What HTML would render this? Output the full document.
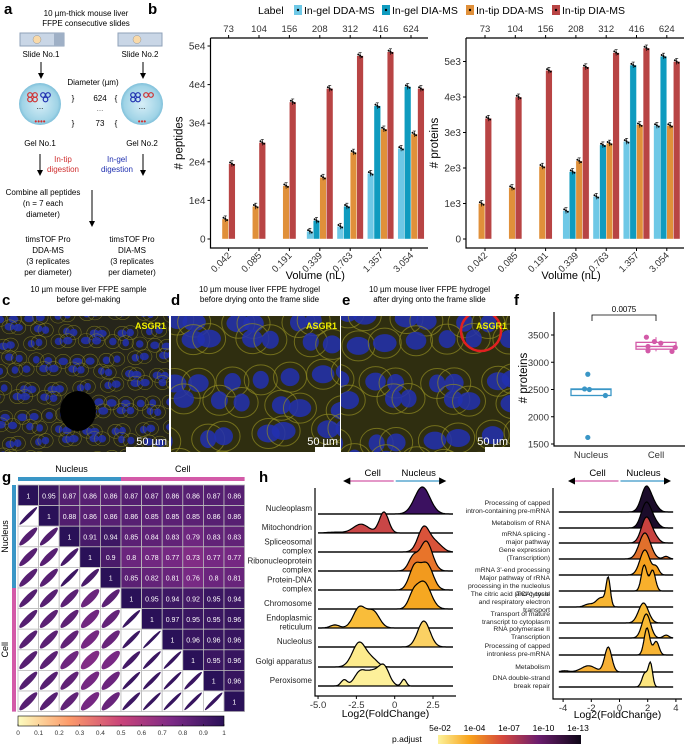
<!DOCTYPE html>
<html><head><meta charset="utf-8">
<style>
html,body{margin:0;padding:0;background:#fff;}
svg{display:block;font-family:"Liberation Sans",Arial,sans-serif;}
</style></head>
<body>
<svg id="fig" width="685" height="744" viewBox="0 0 685 744" xmlns="http://www.w3.org/2000/svg">
<defs>
<linearGradient id="gCorr" x1="0" x2="1" y1="0" y2="0">
<stop offset="0" stop-color="#fcfdbf"/><stop offset="0.25" stop-color="#fc9a6a"/><stop offset="0.5" stop-color="#c9447a"/><stop offset="0.75" stop-color="#7b2a86"/><stop offset="1" stop-color="#2a1158"/>
</linearGradient>
<linearGradient id="gP" x1="0" x2="1" y1="0" y2="0">
<stop offset="0" stop-color="#fcf29a"/><stop offset="0.22" stop-color="#f8a31c"/><stop offset="0.45" stop-color="#d5483d"/><stop offset="0.7" stop-color="#6c1d6e"/><stop offset="1" stop-color="#0d0616"/>
</linearGradient>
<radialGradient id="gelG"><stop offset="0" stop-color="#d7eef7"/><stop offset="0.85" stop-color="#9fd3e6"/><stop offset="1" stop-color="#7fc0da"/></radialGradient>
<marker id="arr" markerWidth="6" markerHeight="6" refX="3" refY="3" orient="auto"><path d="M0,0 L6,3 L0,6 z" fill="#000"/></marker>
</defs>

<g font-weight="bold" font-size="15">
<text x="4" y="14">a</text><text x="148" y="14">b</text><text x="2" y="305">c</text><text x="171" y="305">d</text><text x="342" y="305">e</text><text x="514" y="305">f</text><text x="2" y="482">g</text><text x="259" y="482">h</text>
</g>

<g id="panelA" font-size="8" text-anchor="middle">
<text x="86" y="16">10 µm-thick mouse liver</text>
<text x="86" y="26">FFPE consecutive slides</text>
<rect x="20" y="33" width="44" height="13" fill="#c9d6e6" stroke="#8fa1b8"/>
<rect x="54" y="33" width="10" height="13" fill="#9fb0c6"/>
<circle cx="37" cy="39.5" r="4" fill="#f9d9a8" stroke="#999" stroke-width="0.5"/>
<rect x="118" y="33" width="44" height="13" fill="#c9d6e6" stroke="#8fa1b8"/>
<circle cx="137" cy="39.5" r="4" fill="#f9d9a8" stroke="#999" stroke-width="0.5"/>
<text x="41" y="57">Slide No.1</text><text x="140" y="57">Slide No.2</text>
<line x1="41" y1="62" x2="41" y2="76" stroke="#000" marker-end="url(#arr)"/>
<line x1="143" y1="62" x2="143" y2="76" stroke="#000" marker-end="url(#arr)"/>
<circle cx="40" cy="104" r="21" fill="url(#gelG)"/>
<circle cx="142" cy="104" r="21" fill="url(#gelG)"/>
<g fill="none" stroke-width="1.2">
<circle cx="30" cy="95" r="2.3" stroke="#d03030"/><circle cx="35" cy="95" r="2.3" stroke="#d03030"/><circle cx="30" cy="99.5" r="2.3" stroke="#d03030"/><circle cx="35" cy="99.5" r="2.3" stroke="#d03030"/>
<circle cx="43" cy="95" r="2.3" stroke="#2030b0"/><circle cx="48" cy="95" r="2.3" stroke="#2030b0"/><circle cx="45.5" cy="99.5" r="2.3" stroke="#2030b0"/>
<circle cx="133" cy="95" r="2.3" stroke="#2030b0"/><circle cx="138" cy="95" r="2.3" stroke="#2030b0"/><circle cx="133" cy="99.5" r="2.3" stroke="#2030b0"/><circle cx="138" cy="99.5" r="2.3" stroke="#2030b0"/>
<circle cx="146" cy="95" r="2.3" stroke="#d03030"/><circle cx="151" cy="95" r="2.3" stroke="#d03030"/>
</g>
<text x="40" y="109">...</text><text x="142" y="109">...</text>
<text x="40" y="124" fill="#d03030">••••</text><text x="142" y="124" fill="#d03030">•••</text>
<text x="93" y="85">Diameter (µm)</text>
<text x="73" y="101">}</text><text x="100" y="101">624</text><text x="116" y="101">{</text>
<text x="100" y="111" fill="#666">...</text>
<text x="73" y="126">}</text><text x="100" y="126">73</text><text x="116" y="126">{</text>
<text x="40" y="146">Gel No.1</text><text x="142" y="146">Gel No.2</text>
<line x1="40" y1="154" x2="40" y2="173" stroke="#000" marker-end="url(#arr)"/>
<line x1="143" y1="154" x2="143" y2="173" stroke="#000" marker-end="url(#arr)"/>
<text x="63" y="162" fill="#d03030">In-tip</text><text x="63" y="172" fill="#d03030">digestion</text>
<text x="117" y="162" fill="#2030b0">In-gel</text><text x="117" y="172" fill="#2030b0">digestion</text>
<text x="43" y="195">Combine all peptides</text>
<text x="43" y="206">(n = 7 each</text><text x="43" y="217">diameter)</text>
<line x1="92" y1="190" x2="92" y2="224" stroke="#000" marker-end="url(#arr)"/>
<text x="48" y="242">timsTOF Pro</text><text x="48" y="253">DDA-MS</text><text x="48" y="264">(3 replicates</text><text x="48" y="275">per diameter)</text>
<text x="132" y="242">timsTOF Pro</text><text x="132" y="253">DIA-MS</text><text x="132" y="264">(3 replicates</text><text x="132" y="275">per diameter)</text>
</g>

<g id="panelB"></g>
<g id="panelCDE"></g>
<g id="panelF"></g>
<g id="panelG"></g>
<g id="panelH"></g>
</svg>

<script>
// ---------- data: panel b ----------
const volumes = ["0.042","0.085","0.191","0.339","0.763","1.357","3.054"];
const diameters = ["73","104","156","208","312","416","624"];
const seriesNames = ["In-gel DDA-MS","In-gel DIA-MS","In-tip DDA-MS","In-tip DIA-MS"];
const peptGelDDA = [0,0,0,2000,3300,17000,23500];
const peptGelDIA = [0,0,0,4800,8500,34500,39500];
const peptTipDDA = [5200,8500,13800,16000,22500,28500,27200];
const peptTipDIA = [19500,25000,35500,39000,47500,48500,39000];
const protGelDDA = [0,0,0,800,1200,2750,3200];
const protGelDIA = [0,0,0,1900,2650,4900,5150];
const protTipDDA = [1000,1450,2050,2200,2700,3220,3200];
const protTipDIA = [3400,4000,4750,4850,5250,5380,5000];
const peptTicks = [0,10000,20000,30000,40000,50000];
const peptTickLabels = ["0","1e4","2e4","3e4","4e4","5e4"];
const protTicks = [0,1000,2000,3000,4000,5000];
const protTickLabels = ["0","1e3","2e3","3e3","4e3","5e3"];
// ---------- data: panel f ----------
const fCategories = ["Nucleus","Cell"];
const fNucleus = [2780,2510,2500,2390,1620];
const fCell = [3460,3380,3350,3290,3210,3270,3200];
const fTicks = [1500,2000,2500,3000,3500];
const fPValue = "0.0075";
// ---------- data: panel g ----------
const corrLabels = ["N1","N2","N3","N4","N5","C1","C2","C3","C4","C5","C6"];
const corrUpper = [
 [1,0.95,0.87,0.86,0.86,0.87,0.87,0.86,0.86,0.87,0.86],
 [1,0.88,0.86,0.86,0.86,0.85,0.85,0.85,0.86,0.86],
 [1,0.91,0.94,0.85,0.84,0.83,0.79,0.83,0.83],
 [1,0.9,0.8,0.78,0.77,0.73,0.77,0.77],
 [1,0.85,0.82,0.81,0.76,0.8,0.81],
 [1,0.95,0.94,0.92,0.95,0.94],
 [1,0.97,0.95,0.95,0.96],
 [1,0.96,0.96,0.96],
 [1,0.95,0.96],
 [1,0.96],
 [1]
];
const corrTicks = [0,0.1,0.2,0.3,0.4,0.5,0.6,0.7,0.8,0.9,1];
// ---------- data: panel h ----------
const hLeftTerms = [["Nucleoplasm"],["Mitochondrion"],["Spliceosomal","complex"],["Ribonucleoprotein","complex"],["Protein-DNA","complex"],["Chromosome"],["Endoplasmic","reticulum"],["Nucleolus"],["Golgi apparatus"],["Peroxisome"]];
const hLeftPeaks = [
 [[1.8,0.5,1]],
 [[-0.7,0.3,1],[-2.2,0.5,0.42],[-3.9,0.5,0.04]],
 [[1.9,0.38,1],[2.7,0.4,0.35]],
 [[2.05,0.4,1],[1.2,0.3,0.45]],
 [[1.3,0.35,0.85],[2.1,0.4,0.95]],
 [[1.9,0.45,1],[1.2,0.3,0.45]],
 [[-2.3,0.4,1],[-1.4,0.4,0.8],[-3.9,0.3,0.15]],
 [[1.9,0.4,1]],
 [[-2.3,0.45,1],[-1.4,0.35,0.25]],
 [[-0.7,0.35,0.6],[-1.5,0.45,0.45],[-2.3,0.35,0.4],[-3.3,0.2,0.2],[0.6,0.15,0.22]]
];
const hLeftHeights = [27,21,26,30,28,28,22,26,25,22];
const hLeftColors = ["#3b1160","#c94646","#d9533a","#e8742a","#f29a1e","#f6a821","#f9bd3a","#fbd163","#fdeb8c","#fdf09a"];
const hRightTerms = [["Processing of capped","intron-containing pre-mRNA"],["Metabolism of RNA"],["mRNA splicing -","major pathway"],["Gene expression","(Transcription)"],["mRNA 3'-end processing"],["Major pathway of rRNA","processing in the nucleolus","and cytosol"],["The citric acid (TCA) cycle","and respiratory electron","transport"],["Transport of mature","transcript to cytoplasm"],["RNA polymerase II","Transcription"],["Processing of capped","intronless pre-mRNA"],["Metabolism"],["DNA double-strand","break repair"]];
const hRightPeaks = [
 [[1.9,0.35,1],[2.5,0.3,0.2]],
 [[1.9,0.35,1],[2.5,0.3,0.2]],
 [[1.9,0.35,1],[2.5,0.3,0.2]],
 [[1.8,0.4,1],[3.3,0.2,0.1]],
 [[1.8,0.35,1],[2.6,0.2,0.3]],
 [[1.75,0.2,1],[2.35,0.2,0.8]],
 [[-0.8,0.15,1],[-1.3,0.35,0.35],[-2.2,0.3,0.1]],
 [[1.7,0.35,1]],
 [[1.9,0.3,1],[3.3,0.2,0.12]],
 [[1.95,0.2,1],[2.6,0.2,0.5]],
 [[-0.8,0.25,1],[-2.2,0.5,0.25],[-3.9,0.3,0.05]],
 [[2.2,0.15,1],[1.8,0.2,0.6]]
];
const hRightHeights = [26,26,26,26,25,26,30,20,24,27,25,25];
const hRightColors = ["#1b0c2a","#1b0c2a","#c8423f","#e0702c","#f5a01d","#f8b02c","#f7b532","#f9bb35","#f9b933","#f8b534","#f6b035","#fce57e"];
const hLeftTicks = [-5,-2.5,0,2.5];
const hLeftTickLabels = ["-5.0","-2.5","0","2.5"];
const hRightTicks = [-4,-2,0,2,4];
const pLabels = ["5e-02","1e-04","1e-07","1e-10","1e-13"];

const NS="http://www.w3.org/2000/svg";
function mk(parent,tag,attrs,text){const e=document.createElementNS(NS,tag);for(const k in attrs)e.setAttribute(k,attrs[k]);if(text!==undefined)e.textContent=text;parent.appendChild(e);return e;}

// ---------- panel B ----------
(function(){
 const g=document.getElementById('panelB');
 const colors=["#6ec8e6","#0f9bbf","#e0903a","#b84444"];
 const lg=mk(g,'text',{x:258,y:14,'font-size':10.5},"Label");
 
 
 const lx=[294,382,466,552];
 seriesNames.forEach((n,i)=>{
  const r=mk(g,'rect',{x:lx[i],y:5,width:8,height:10,fill:colors[i]});
  
  
  mk(g,'circle',{cx:lx[i]+4,cy:10,r:1.2,fill:'#000'});
  const t=mk(g,'text',{x:lx[i]+10,y:14,'font-size':10.5},n);
  
  
 });
 function chart(left,right,top,zeroY,maxV,maxY,groupX0,dx,series,ticks,tickLabels,title,name){
  const bottom=248;
  const yS=v=>zeroY-(v/maxV)*(zeroY-maxY);
  const xS=i=>groupX0+i*dx;
  const ax=mk(g,'path',{d:`M${left},${top}L${left},${bottom}L${right},${bottom}M${left},${top}L${right},${top}`,stroke:'#000','stroke-width':1.2,fill:'none'});
  
  
  ticks.forEach((t,i)=>{
   const y=yS(t);
   mk(g,'line',{x1:left-3,x2:left,y1:y,y2:y,stroke:'#000'});
   const tl=mk(g,'text',{x:left-5,y:y+3.5,'font-size':10,'text-anchor':'end',fill:'#333'},tickLabels[i]);
   
   
  });
  const yt=mk(g,'text',{transform:`translate(${left-28},143) rotate(-90)`,'font-size':11.5,'text-anchor':'middle'},title);
  
  
  const xt=mk(g,'text',{x:(left+right)/2-4,y:279,'font-size':11,'text-anchor':'middle'},"Volume (nL)");
  
  
  const bw=6.6;
  volumes.forEach((v,i)=>{
   const cx=xS(i);
   mk(g,'line',{x1:cx,x2:cx,y1:bottom,y2:bottom+3,stroke:'#000'});
   mk(g,'line',{x1:cx,x2:cx,y1:top,y2:top-3,stroke:'#000'});
   const xl=mk(g,'text',{transform:`translate(${cx+3},${bottom+8}) rotate(-45)`,'font-size':9.5,'text-anchor':'end',fill:'#333'},v);
   
   
   const dl=mk(g,'text',{x:cx,y:top-6,'font-size':9.5,'text-anchor':'middle',fill:'#333'},diameters[i]);
   
   
   const present=[0,1,2,3].filter(s=>series[s][i]>0);
   const x0=cx-present.length*bw/2;
   present.forEach((s,k)=>{
    const val=series[s][i];
    const y=yS(val);
    const r=mk(g,'rect',{x:x0+k*bw,y:y,width:bw,height:zeroY-y,fill:colors[s],stroke:'#fff','stroke-width':0.4});
    
    
    const bc=x0+k*bw+bw/2;
    mk(g,'line',{x1:bc,x2:bc,y1:y-3,y2:y+3,stroke:'#000','stroke-width':0.6});
    mk(g,'line',{x1:bc-1.5,x2:bc+1.5,y1:y-3,y2:y-3,stroke:'#000','stroke-width':0.6});
    [-1.8,0,1.8].forEach((o,j)=>mk(g,'circle',{cx:bc+o,cy:y+(j-1)*1.2,r:1,fill:'#000'}));
   });
  });
 }
 chart(210.5,428,38,239,50000,46,228.6,30.4,[peptGelDDA,peptGelDIA,peptTipDDA,peptTipDIA],peptTicks,peptTickLabels,"# peptides","peptides");
 chart(466,684,38,239,5000,61.5,485,30.3,[protGelDDA,protGelDIA,protTipDDA,protTipDIA],protTicks,protTickLabels,"# proteins","proteins");
})();

// ---------- panels C, D, E ----------
(function(){
 const g=document.getElementById('panelCDE');
 const titles=[["10 µm mouse liver FFPE sample","before gel-making"],["10 µm mouse liver FFPE hydrogel","before drying onto the frame slide"],["10 µm mouse liver FFPE hydrogel","after drying onto the frame slide"]];
 const xs=[0,171,341],w=169,top=316,h=136;
 xs.forEach((x0,p)=>{
  titles[p].forEach((t,k)=>mk(g,'text',{x:x0+w/2+4,y:292+k*10,'font-size':8,'text-anchor':'middle'},t));
  const cl=mk(g,'clipPath',{id:'cp'+p});mk(cl,'rect',{x:x0,y:top,width:w,height:h});
  const img=mk(g,'g',{'clip-path':`url(#cp${p})`});
  
  
  mk(img,'rect',{x:x0,y:top,width:w,height:h,fill:p==0?'#26251a':'#2f2e10'});
  const step=p==0?14:30, rr=p==0?4.2:10;
  for(let r=0;r*step<h+step;r++)for(let c=0;c*step<w+step;c++){
   const jx=Math.sin(r*7.1+c*3.3+p)*step*0.25, jy=Math.cos(r*2.7+c*5.9+p)*step*0.25;
   const cx=x0+c*step+(r%2)*step/2+jx, cy=top+r*step+jy;
   mk(img,'ellipse',{cx:cx,cy:cy,rx:step*0.55,ry:step*0.5,fill:'none',stroke:'#8f8a22','stroke-width':p==0?0.6:1,opacity:0.7});
   mk(img,'ellipse',{cx:cx,cy:cy,rx:rr*(1+0.2*Math.sin(r+c)),ry:rr*0.9,fill:'#2230b0',opacity:0.85});
  }
  if(p==0) mk(img,'ellipse',{cx:x0+78,cy:top+95,rx:18,ry:20,fill:'#000'});
  if(p==2) mk(img,'circle',{cx:x0+140,cy:top+15,r:20,fill:'none',stroke:'#e02020','stroke-width':2.5});
  const as=mk(g,'text',{x:x0+w-3,y:top+13,'font-size':9,'font-weight':'bold','text-anchor':'end',fill:'#f0f000'},"ASGR1");
  
  
  mk(g,'text',{x:x0+w-2,y:top+h-7,'font-size':11,'text-anchor':'end',fill:'#fff'},"50 µm");
  mk(g,'rect',{x:x0+w-(p==0?43:25),y:top+h-5,width:p==0?43:25,height:5,fill:'#fff'});
 });
})();

// ---------- panel F ----------
(function(){
 const g=document.getElementById('panelF');
 const yS=v=>444-(v-1500)/2000*(444-335);
 const xC=[591,656];
 const ax=mk(g,'path',{d:'M554,312L554,446L685,446',stroke:'#000','stroke-width':1.2,fill:'none'});
 
 
 fTicks.forEach(t=>{const y=yS(t);mk(g,'line',{x1:551,x2:554,y1:y,y2:y,stroke:'#000'});
  const l=mk(g,'text',{x:549,y:y+3.5,'font-size':9.5,'text-anchor':'end',fill:'#333'},t);
  
  });
 const yt=mk(g,'text',{transform:'translate(527,378) rotate(-90)','font-size':11.5,'text-anchor':'middle'},"# proteins");
 
 
 const sets=[fNucleus,fCell], cols=['#3a96c6','#d35aa8'];
 const jit=[[-2,-4,-1,9,-2],[-6,-1,3,-5,-5,12,10]];
 sets.forEach((arr,i)=>{
  const s=[...arr].sort((a,b)=>a-b), n=s.length;
  const q=p=>{const idx=(n-1)*p,lo=Math.floor(idx),hi=Math.ceil(idx);return s[lo]+(s[hi]-s[lo])*(idx-lo);};
  const q1=q(0.25),q2=q(0.5),q3=q(0.75),iqr=q3-q1;
  const wl=Math.min(...s.filter(v=>v>=q1-1.5*iqr)),wh=Math.max(...s.filter(v=>v<=q3+1.5*iqr));
  const cx=xC[i];
  mk(g,'line',{x1:cx,x2:cx,y1:yS(wh),y2:yS(q3),stroke:cols[i]});
  mk(g,'line',{x1:cx,x2:cx,y1:yS(q1),y2:yS(wl),stroke:cols[i]});
  const b=mk(g,'rect',{x:cx-20,y:yS(q3),width:40,height:Math.max(1,yS(q1)-yS(q3)),fill:'none',stroke:cols[i],'stroke-width':1.3});
  
  
  mk(g,'line',{x1:cx-20,x2:cx+20,y1:yS(q2),y2:yS(q2),stroke:cols[i],'stroke-width':1.3});
  arr.forEach((v,k)=>{const c=mk(g,'circle',{cx:cx+jit[i][k]*1.6,cy:yS(v),r:2.6,fill:cols[i]});
   
   });
  const xl=mk(g,'text',{x:cx,y:458,'font-size':9.5,'text-anchor':'middle',fill:'#333'},fCategories[i]);
  
  
 });
 mk(g,'path',{d:'M592,321L592,315L656,315L656,321',fill:'none',stroke:'#000','stroke-width':0.8});
 const pv=mk(g,'text',{x:624,y:312,'font-size':8,'text-anchor':'middle'},fPValue);
 
 
})();

// ---------- panel G ----------
(function(){
 const g=document.getElementById('panelG');
 const x0=18,y0=485,cs=20.6,n=corrLabels.length;
 const stops=[[0,[252,253,191]],[0.25,[252,154,106]],[0.5,[201,68,122]],[0.75,[123,42,134]],[1,[42,17,88]]];
 const col=v=>{for(let i=1;i<stops.length;i++){if(v<=stops[i][0]){const a=stops[i-1],b=stops[i],t=(v-a[0])/(b[0]-a[0]);return 'rgb('+a[1].map((c,k)=>Math.round(c+(b[1][k]-c)*t)).join(',')+')';}}return 'rgb(42,17,88)';};
 mk(g,'text',{x:x0+cs*2.6,y:472,'font-size':9,'text-anchor':'middle'},"Nucleus");
 mk(g,'text',{x:x0+cs*8,y:472,'font-size':9,'text-anchor':'middle'},"Cell");
 mk(g,'rect',{x:x0,y:477,width:cs*5,height:4,fill:'#3a96c6'});
 mk(g,'rect',{x:x0+cs*5,y:477,width:cs*6,height:4,fill:'#d35aa8'});
 mk(g,'rect',{x:12,y:y0,width:4,height:cs*5,fill:'#3a96c6'});
 mk(g,'rect',{x:12,y:y0+cs*5,width:4,height:cs*6,fill:'#d35aa8'});
 mk(g,'text',{transform:`translate(8,${y0+cs*2.5}) rotate(-90)`,'font-size':9,'text-anchor':'middle'},"Nucleus");
 mk(g,'text',{transform:`translate(8,${y0+cs*8}) rotate(-90)`,'font-size':9,'text-anchor':'middle'},"Cell");
 for(let i=0;i<n;i++)for(let j=0;j<n;j++){
  const x=x0+j*cs,y=y0+i*cs;
  const v=j>=i?corrUpper[i][j-i]:corrUpper[j][i-j];
  if(j>=i){
   const r=mk(g,'rect',{x:x,y:y,width:cs,height:cs,fill:col(v),stroke:'#bbb','stroke-width':0.8});
   
   
   mk(g,'text',{x:x+cs/2,y:y+cs/2+3,'font-size':7,'text-anchor':'middle',fill:'#fff'},String(v));
  } else {
   mk(g,'rect',{x:x,y:y,width:cs,height:cs,fill:'#fff',stroke:'#bbb','stroke-width':0.8});
   const e=mk(g,'ellipse',{cx:x+cs/2,cy:y+cs/2,rx:cs*0.6,ry:Math.max(1.2,cs*0.42*Math.sqrt(1-v)),fill:col(v),transform:`rotate(-45 ${x+cs/2} ${y+cs/2})`});
   
   
  }
 }
 const cb=mk(g,'rect',{x:x0,y:716,width:206,height:10,fill:'url(#gCorr)',stroke:'#000','stroke-width':0.6});
 
 
 corrTicks.forEach(t=>{const x=x0+t*206;mk(g,'line',{x1:x,x2:x,y1:724,y2:726,stroke:'#000','stroke-width':0.5});
  mk(g,'text',{x:x,y:735,'font-size':6.5,'text-anchor':'middle',fill:'#333'},String(t));});
})();

// ---------- panel H ----------
(function(){
 const g=document.getElementById('panelH');
 function ridge(axisX,right,axisBottom,zeroX,pxPerUnit,xmin,xmax,terms,peaks,heights,colors,baselines,ticks,tickLabels,labelSize,name,titleOff){
  const xS=v=>zeroX+v*pxPerUnit;
  terms.forEach((lines,i)=>{
   const base=baselines[i];
   const dens=[];let mx=0;
   for(let k=0;k<=120;k++){const v=xmin+(xmax-xmin)*k/120;let d=0;peaks[i].forEach(p=>{d+=p[2]*Math.exp(-0.5*((v-p[0])/p[1])**2);});dens.push([v,d]);if(d>mx)mx=d;}
   let d=`M${xS(xmin)},${base}`;
   dens.forEach(p=>{d+=`L${xS(p[0]).toFixed(1)},${(base-p[1]/mx*heights[i]).toFixed(1)}`;});
   const area=mk(g,'path',{d:d+`L${xS(xmax)},${base}Z`,fill:colors[i],stroke:'none'});
   
   
   mk(g,'path',{d:d.replace(/^M[^L]*L/,'M'),fill:'none',stroke:'#000','stroke-width':1.2});
   mk(g,'line',{x1:xS(xmin),x2:xS(xmax),y1:base,y2:base,stroke:'#000','stroke-width':1.2});
   const lh=labelSize+1, y1=base-3-(lines.length-1)*lh/2;
   lines.forEach((t,k)=>{const tx=mk(g,'text',{x:axisX-3,y:y1+k*lh,'font-size':labelSize,'text-anchor':'end',fill:'#222'},t);
    
    });
  });
  const ax=mk(g,'path',{d:`M${axisX},488L${axisX},${axisBottom}L${right},${axisBottom}`,fill:'none',stroke:'#000','stroke-width':1.2});
  
  
  ticks.forEach((t,i)=>{const x=xS(t);mk(g,'line',{x1:x,x2:x,y1:axisBottom,y2:axisBottom+3,stroke:'#000'});
   mk(g,'text',{x:x,y:axisBottom+12,'font-size':9.5,'text-anchor':'middle',fill:'#333'},tickLabels[i]);});
  const xt=mk(g,'text',{x:(axisX+right)/2,y:axisBottom+titleOff,'font-size':10.5,'text-anchor':'middle'},"Log2(FoldChange)");
  
  
  mk(g,'text',{x:zeroX-22,y:476,'font-size':9.5,'text-anchor':'middle'},"Cell");
  mk(g,'text',{x:zeroX+24,y:476,'font-size':9.5,'text-anchor':'middle'},"Nucleus");
  mk(g,'line',{x1:zeroX-1,x2:zeroX-48,y1:481,y2:481,stroke:'#d35aa8','stroke-width':1.2,'marker-end':'url(#arr)'});
  mk(g,'line',{x1:zeroX+1,x2:zeroX+48,y1:481,y2:481,stroke:'#3a96c6','stroke-width':1.2,'marker-end':'url(#arr)'});
 }
 ridge(315,456,696,394.7,15.33,-5,3.8,hLeftTerms,hLeftPeaks,hLeftHeights,hLeftColors,[514,533,552,571,590,609,628,647,667,686],hLeftTicks,hLeftTickLabels,8,'left',21);
 ridge(553,682,699,619.5,14.1,-4.3,3.8,hRightTerms,hRightPeaks,hRightHeights,hRightColors,[512,528,543,559,575,591,607,623,638,655,672,687],hRightTicks,hRightTicks.map(String),6.8,'right',19);
 const pb=mk(g,'rect',{x:438,y:735,width:143,height:9,fill:'url(#gP)'});
 
 
 mk(g,'text',{x:392,y:742,'font-size':8.5},"p.adjust");
 pLabels.forEach((l,i)=>mk(g,'text',{x:440+i*34.5,y:731,'font-size':8.5,'text-anchor':'middle'},l));
})();
</script>
</body></html>
